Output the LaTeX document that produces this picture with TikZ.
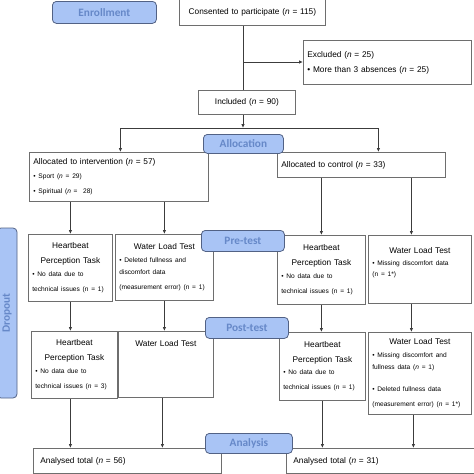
\documentclass[tikz,border=0pt]{standalone}
\usepackage{fontspec}
\setmainfont{Liberation Sans}
\newfontfamily\stagefont{Carlito}
\usetikzlibrary{arrows.meta}
\definecolor{boxline}{HTML}{6E6E6E}
\definecolor{lineclr}{HTML}{3C3C3C}
\definecolor{stagefill}{HTML}{A9C4F5}
\definecolor{stageline}{HTML}{526285}
\definecolor{stagetext}{HTML}{6688C8}
\newcommand{\smalltxt}{\fontsize{6.6}{12.5}\selectfont}
\newcommand{\titletxt}{\fontsize{8.3}{15}\selectfont}
\begin{document}
\begin{tikzpicture}[x=1pt,y=-1pt,
  cell/.style={draw=boxline,line width=0.8pt,fill=white,anchor=north west,inner xsep=4pt,inner ysep=0pt,align=left,font=\titletxt},
  stage/.style={draw=stageline,line width=0.8pt,fill=stagefill,rounded corners=4pt,text=stagetext,inner sep=0pt,font=\stagefont\bfseries\fontsize{11.3}{12}\selectfont},
  flow/.style={draw=lineclr,line width=0.8pt},
  >={Latex[length=4pt,width=3.5pt]}]
\fill[white] (0,0) rectangle (474,474);
\useasboundingbox (0,0) rectangle (474,474);
% enrollment
\node[cell,align=center,minimum width=146,minimum height=27,text width=138] (consent) at (179,-2) {Consented to participate (\textit{n} = 115)};
\node[cell,minimum width=168,minimum height=44,text width=160] (excl) at (303,40) {Excluded (\textit{n} = 25)\\\textbullet{} More than 3 absences (\textit{n} = 25)};
\node[cell,align=center,minimum width=97,minimum height=24,text width=89] (incl) at (198,90) {Included (\textit{n} = 90)};
\coordinate (split) at (243,62);
\coordinate (fork) at (243,128);
\draw[flow] (consent.south -| split) -- (incl.north -| split);
\draw[flow,->] (split) -- (split -| excl.west);
\draw[flow,->] (incl.south -| fork) -- (fork);
% allocation
\node[cell,minimum width=179,minimum height=49,text width=171] (interv) at (29,152) {Allocated to intervention (\textit{n} = 57)\par\smalltxt\vspace{2pt} \textbullet{} Sport (\textit{n} = 29)\\ \textbullet{} Spiritual (\textit{n} =\ \ 28)};
\node[cell,minimum width=168,minimum height=25,text width=160] (control) at (277,152) {Allocated to control (\textit{n} = 33)};
\draw[flow,->] (fork) -| ([xshift=1.5pt]interv.north);
\draw[flow,->] (fork) -| ([xshift=17pt]control.north);
% pre-test
\node[cell,minimum width=84,minimum height=67,text width=76] (preHB1) at (28,234) {{\centering Heartbeat\\Perception Task\par}\smalltxt\textbullet{} No data due to\\technical issues (n = 1)};
\node[cell,minimum width=98,minimum height=66,text width=90] (preWL1) at (115,234) {{\centering Water Load Test\par}\smalltxt\textbullet{} Deleted fullness and\\discomfort data\\(measurement error) (n = 1)};
\node[cell,minimum width=88,minimum height=69,text width=80] (preHB2) at (277,235) {{\centering Heartbeat\\Perception Task\par}\smalltxt\textbullet{} No data due to\\technical issues (n = 1)};
\node[cell,minimum width=103,minimum height=68,text width=95] (preWL2) at (368,235) {{\centering Water Load Test\par}\smalltxt\textbullet{} Missing discomfort data\\[-2pt](n = 1*)\par\rule{0pt}{13pt}};
\draw[flow,->] (interv.south -| preHB1.north) -- (preHB1.north);
\draw[flow,->] (interv.south -| preWL1.north) -- (preWL1.north);
\draw[flow,->] (control.south -| preHB2.north) -- (preHB2.north);
\draw[flow,->] ([xshift=-8.5pt]preWL2.north |- control.south) -- ([xshift=-8.5pt]preWL2.north);
% post-test
\node[cell,minimum width=86,minimum height=67,text width=78] (postHB1) at (31,331) {{\centering Heartbeat\\Perception Task\par}\smalltxt\textbullet{} No data due to\\technical issues (\textit{n} = 3)};
\node[cell,minimum width=95,minimum height=66,text width=87] (postWL1) at (118,331) {{\centering Water Load Test\par}\rule{0pt}{40pt}};
\node[cell,minimum width=86,minimum height=68,text width=78] (postHB2) at (279,332) {{\centering Heartbeat\\Perception Task\par}\smalltxt\textbullet{} No data due to\\technical issues (\textit{n} = 1)};
\node[cell,minimum width=103,minimum height=82,text width=95] (postWL2) at (368,332) {{\centering Water Load Test\par}\smalltxt\textbullet{} Missing discomfort and\\fullness data (\textit{n} = 1)\par\vspace{9pt}\textbullet{} Deleted fullness data\\(measurement error) (\textit{n} = 1*)};
\draw[flow,->] (preHB1.south) -- (preHB1.south |- postHB1.north);
\draw[flow,->] (preWL1.south) -- (preWL1.south |- postWL1.north);
\draw[flow,->] (preHB2.south) -- (preHB2.south |- postHB2.north);
\draw[flow,->] ([xshift=-8.5pt]preWL2.south) -- ([xshift=-8.5pt]preWL2.south |- postWL2.north);
% analysis
\node[cell,minimum width=182,minimum height=25,text width=174,inner xsep=7pt] (total1) at (33,448) {Analysed total (\textit{n} = 56)};
\node[cell,minimum width=200,minimum height=25,text width=186,inner xsep=7pt] (total2) at (286,448) {Analysed total (\textit{n} = 31)};
\draw[flow,->] ([xshift=-4pt]postHB1.south) -- ([xshift=-4pt]postHB1.south |- total1.north);
\draw[flow,->] ([xshift=-3.5pt]postWL1.south) -- ([xshift=-3.5pt]postWL1.south |- total1.north);
\draw[flow,->] (postHB2.south) -- (postHB2.south |- total2.north);
\draw[flow,->] ([xshift=-6.5pt]postWL2.south) -- ([xshift=-6.5pt]postWL2.south |- total2.north);
% stage labels
\node[stage,anchor=north west,minimum width=104,minimum height=22] (enroll) at (52,1) {Enrollment};
\node[stage,anchor=north west,minimum width=80,minimum height=19] (alloc) at (203,134) {Allocation};
\node[stage,anchor=north west,minimum width=83,minimum height=21] (pretest) at (201,230) {Pre-test};
\node[stage,anchor=north west,minimum width=83,minimum height=21] (posttest) at (205,317) {Post-test};
\node[stage,anchor=north west,minimum width=87,minimum height=20] (analysis) at (205,433) {Analysis};
\node[stage,rotate=90,minimum width=170,minimum height=20] (dropout) at (7,313) {Dropout};
\end{tikzpicture}
\end{document}
